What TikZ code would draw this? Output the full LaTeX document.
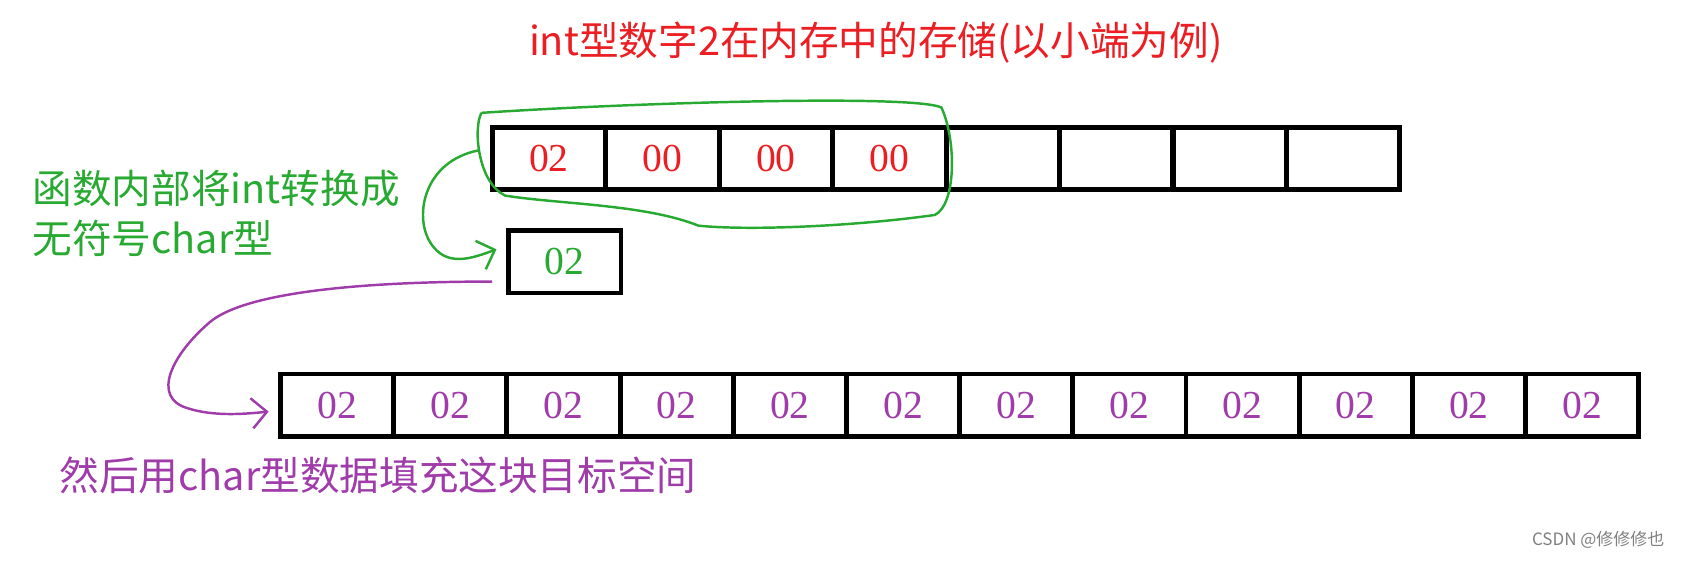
\documentclass[tikz,border=0pt]{standalone}
\usepackage{fontspec}
\usetikzlibrary{arrows.meta}
\setmainfont{Liberation Serif}
\newfontfamily\cjk{Noto Sans CJK SC}
\definecolor{myred}{RGB}{235,30,35}
\definecolor{mygreen}{RGB}{40,170,50}
\definecolor{mypurple}{RGB}{160,60,170}
\begin{document}
\begin{tikzpicture}[x=0.02cm,y=-0.02cm,
  cell/.style={draw=black,line width=2.4pt,minimum width=2.1cm,minimum height=1.16cm,inner sep=0pt,font=\fontsize{21}{24}\selectfont},
  lbl/.style={font=\cjk\fontsize{21}{24}\selectfont,anchor=west,inner sep=0pt}]
\useasboundingbox (0,0) rectangle (1568,522);
\node[font=\cjk\fontsize{21}{24}\selectfont,text=myred] (title) at (815,40) {int型数字2在内存中的存储(以小端为例)};
% top row
\foreach \i/\t in {1/02,2/00,3/00,4/00,5/,6/,7/,8/}{
  \node[cell,text=myred] (t\i) at ({458+105.6*(\i-0.5)},147.5) {\t};
}
% green loop
\draw[mygreen,line width=1.3pt] (448,105) .. controls (600,95) and (850,88) .. (876,100)
  .. controls (890,130) and (890,190) .. (870,200) .. controls (800,210) and (700,215) .. (650,210)
  .. controls (600,190) and (520,190) .. (470,182) .. controls (445,170) and (440,120) .. (448,105);
\coordinate (gs) at (445,140);
\node[cell,text=mygreen] (one) at (525.5,243.5) {02};
\draw[mygreen,line width=1.3pt,-{Straight Barb[length=8pt]}] (gs) .. controls (395,150) and (385,200) .. (400,225) .. controls (415,250) and (440,240) .. (462,232);
\node[lbl,text=mygreen] (g1) at (30,175) {函数内部将int转换成};
\node[lbl,text=mygreen] (g2) at (30,222) {无符号char型};
% bottom row
\foreach \i in {1,...,12}{
  \node[cell,text=mypurple] (b\i) at ({261+105.33*(\i-0.5)},377) {02};
}
\coordinate (ps) at (458,262);
\draw[mypurple,line width=1.3pt,-{Straight Barb[length=8pt]}] (ps) .. controls (350,262) and (230,270) .. (195,300)
  .. controls (160,330) and (140,370) .. (175,380) .. controls (200,388) and (230,385) .. (250,383);
\node[lbl,text=mypurple] (p1) at (55,442) {然后用char型数据填充这块目标空间};
\node[font=\cjk\fontsize{9}{11}\selectfont,text=gray,anchor=east] (wm) at (1555,502) {CSDN @修修修也};
\end{tikzpicture}
\end{document}
